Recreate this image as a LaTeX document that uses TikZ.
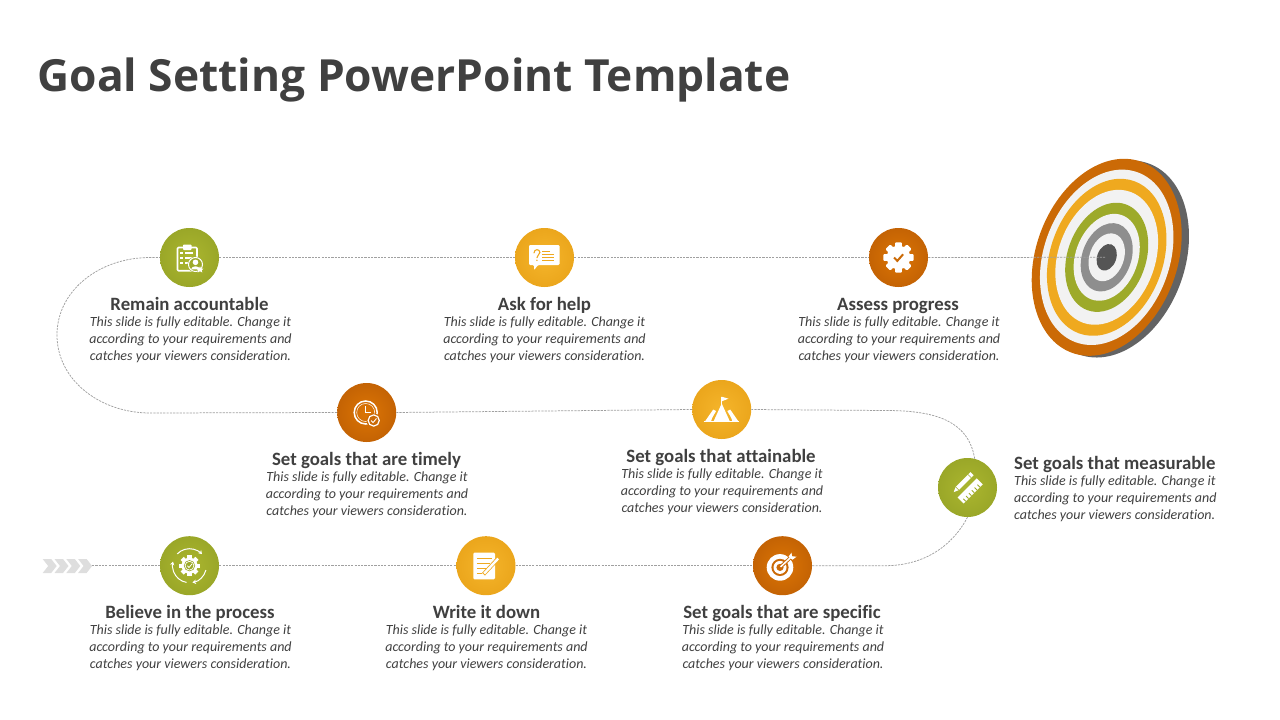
\documentclass[tikz,border=0pt]{standalone}
\usepackage{fontspec}
\setmainfont[Ligatures=NoCommon]{Carlito}
\newfontfamily\titlefont{Open Sans}
\usetikzlibrary{shadings,arrows.meta}
\definecolor{ink}{HTML}{404040}
\definecolor{rust}{HTML}{CB6A06}
\definecolor{amber}{HTML}{EFA91F}
\definecolor{olive}{HTML}{9DAA2A}
\definecolor{oliveglow}{HTML}{ABB62F}
\definecolor{oliveedge}{HTML}{9AA728}
\definecolor{amberglow}{HTML}{F5B52B}
\definecolor{amberedge}{HTML}{EBA61C}
\definecolor{rustglow}{HTML}{DC7505}
\definecolor{rustedge}{HTML}{C46304}
\definecolor{ringgrey}{HTML}{8E8E8E}
\definecolor{coregrey}{HTML}{555555}
\definecolor{ringwhite}{HTML}{F2F2F2}
\definecolor{pathgrey}{HTML}{A0A0A0}
\definecolor{chevgrey}{HTML}{DEDEDE}
\tikzset{
  x=1pt,y=-1pt,
  ball/.style={circle,inner sep=0pt,minimum size=59pt,draw=none},
  oliveball/.style={ball,inner color=oliveglow,outer color=oliveedge},
  amberball/.style={ball,inner color=amberglow,outer color=amberedge},
  rustball/.style={ball,inner color=rustglow,outer color=rustedge},
  headtext/.style={inner sep=0pt,anchor=base,font=\fontsize{18.8}{20}\selectfont\bfseries,text=ink},
  bodytext/.style={inner sep=0pt,anchor=north,align=center,font=\fontsize{14}{17}\selectfont\itshape,text=ink},
  pathline/.style={draw=pathgrey,line width=0.75pt,dash pattern=on 2.2pt off 1.1pt},
  iconstroke/.style={draw=white,line width=1.3pt,line cap=round,line join=round},
  roundarrow/.style={white,line width=1pt,-{Stealth[length=3.6pt,width=4.4pt]}},
  ringdisc/.style={shift={(1106.7,257.3)},rotate=-20},
}
\newcommand{\bodywords}{This slide is fully editable. Change it\\according to your requirements and\\catches your viewers consideration.}
\newcommand{\ringfill}[2]{\fill[#1] (0,0) ellipse [x radius=70.7*#2,y radius=101.6*#2];}
\begin{document}
\begin{tikzpicture}
\useasboundingbox (0,0) rectangle (1280,720);
\node[inner sep=0pt,anchor=base west,text=ink,font=\titlefont\fontsize{44.3}{50}\selectfont\bfseries] (title) at (37.5,91) {Goal Setting PowerPoint Template};

% target
\begin{scope}[shift={(1114,259)},rotate=-20]
  \ringfill{coregrey!92!white}{1}
\end{scope}
\begin{scope}[ringdisc]
  \ringfill{rust}{1}
  \ringfill{ringwhite}{.89}
  \ringfill{amber}{.797}
  \ringfill{ringwhite}{.685}
  \ringfill{olive}{.554}
  \ringfill{ringwhite}{.441}
  \ringfill{ringgrey}{.347}
  \ringfill{ringwhite}{.243}
  \ringfill{coregrey}{.135}
\end{scope}
\coordinate (aim) at (1105,257.3);

% chevrons
\foreach \cx in {42.7,54.5,66.3,78.1}{
  \fill[chevgrey] (\cx,559) -- (\cx+8.5,559) -- (\cx+14,566) -- (\cx+8.5,573) -- (\cx,573) -- (\cx+5.5,566) -- cycle;
}
\coordinate (tail) at (92,565.7);

% stations
\node[oliveball] (believe) at (189.5,565.7) {};
\node[amberball] (write) at (486,565.7) {};
\node[rustball] (specific) at (782.5,565.7) {};
\node[oliveball] (measurable) at (967.5,487.5) {};
\node[amberball] (attainable) at (721.7,409.5) {};
\node[rustball] (timely) at (366.7,412.5) {};
\node[oliveball] (accountable) at (189.5,257.5) {};
\node[amberball] (help) at (544.5,257.5) {};
\node[rustball] (progress) at (898.5,257.5) {};

% connectors
\draw[pathline] (tail) -- (believe);
\draw[pathline] (believe) -- (write);
\draw[pathline] (write) -- (specific);
\draw[pathline] (specific.east) -- (885,565.7) .. controls (925,565.7) and (953,545) .. (measurable.south);
\draw[pathline] (measurable.76) .. controls (968,418) and (930,410.5) .. (885,410.5) -- (attainable.east);
\draw[pathline] (attainable.west) -- (timely.east);
\draw[pathline] (timely.west) -- (150,413) .. controls (100,413) and (57,380) .. (57,335) .. controls (57,290) and (100,257.5) .. (150,257.5) -- (accountable.west);
\draw[pathline] (accountable) -- (help);
\draw[pathline] (help) -- (progress);
\draw[pathline] (progress) -- (aim);

% icon: clipboard and person
\begin{scope}[shift={(accountable.center)}]
  \draw[iconstroke,line width=1.6pt,rounded corners=1pt] (-12,-10) rectangle (7.5,13.2);
  \fill[white,rounded corners=.8pt] (-6.5,-13) rectangle (2,-7.5);
  \foreach \ly in {-4.5,0.5,5.5}{
    \draw[white,line width=1.2pt] (-9.5,\ly) -- (-6.5,\ly);
    \draw[white,line width=1.2pt] (-4.5,\ly) -- (3.5,\ly);
  }
  \fill[olive] (6,7) circle (8);
  \draw[white,line width=1pt] (6,7) circle (7);
  \fill[white] (6,4.8) circle (2.8);
  \fill[white] (1.6,11.8) .. controls (2,7.8) and (10,7.8) .. (10.4,11.8) -- cycle;
  \fill[white] (10.5,8.8) -- (11.5,11) -- (13.8,11.2) -- (12.2,12.8) -- (12.8,15) -- (10.5,13.8) -- (8.2,15) -- (8.8,12.8) -- (7.2,11.2) -- (9.5,11) -- cycle;
\end{scope}

% icon: speech bubble
\begin{scope}[shift={(help.center)}]
  \fill[white,rounded corners=1.2pt] (-15.5,-12.5) -- (15,-12.5) -- (15,7.5) -- (-6.5,7.5) -- (-10.5,12.8) -- (-10.5,7.5) -- (-15.5,7.5) -- cycle;
  \draw[amber,line width=1.1pt,line cap=round] (-10.5,-4.6) .. controls (-10.5,-8.8) and (-4.6,-8.8) .. (-4.6,-5) .. controls (-4.6,-2.6) and (-7.6,-2.6) .. (-7.6,0.2);
  \fill[amber] (-7.6,2.8) circle (.8);
  \foreach \ly/\lx in {-6/5,-3/9,0/9,3/9}{
    \draw[amber,line width=1pt] (-2.5,\ly) -- (\lx,\ly);
  }
\end{scope}

% icon: gear with tick
\begin{scope}[shift={(progress.center)}]
  \foreach \a in {0,45,...,315}{
    \fill[white,rotate=\a,rounded corners=1pt] (-3.4,-15.2) rectangle (3.4,-8);
  }
  \fill[white] (0,0) circle (11.8);
  \draw[rust,line width=2pt] (-4.4,0) -- (-1.2,3.4) -- (4.6,-3.2);
\end{scope}

% icon: clock with badge
\begin{scope}[shift={(timely.center)}]
  \draw[white,line width=1.5pt] (-1,0) circle (11.5);
  \draw[white,line width=.5pt] (-1,0) circle (9);
  \draw[white,line width=1.4pt] (-1,-6.5) -- (-1,0) -- (4.5,0);
  \fill[rust] (7,8) circle (7.2);
  \draw[white,line width=1.2pt] (7,8) circle (5.6);
  \draw[white,line width=.9pt] (4.4,8) -- (6.4,10) -- (9.8,6);
\end{scope}

% icon: mountain with flag
\begin{scope}[shift={(attainable.center)}]
  \fill[white] (0,-6) -- (8,11.6) -- (-8,11.6) -- cycle;
  \fill[white] (-8.5,0) -- (-5.6,1.6) .. controls (-7.6,5) and (-10,8.5) .. (-10.6,11.6) -- (-16.5,11.6) -- cycle;
  \fill[white] (8.5,0) -- (5.6,1.6) .. controls (7.6,5) and (10,8.5) .. (10.6,11.6) -- (16.5,11.6) -- cycle;
  \draw[white,line width=.8pt] (0,-5) -- (0,-12.8);
  \fill[white] (0,-12.8) -- (6.8,-10.8) -- (0,-8.2) -- cycle;
  \draw[white,line width=1pt] (-18,12.2) -- (17.5,12.2);
\end{scope}

% icon: ruler and pencil
\begin{scope}[shift={(measurable.center)},rotate=45]
  \fill[white] (-14,0) rectangle (13,8.6);
  \foreach \tx in {-11,-7,-3,1,5,9}{
    \draw[olive,line width=.9pt] (\tx,8.6) -- (\tx,5);
  }
  \fill[white] (-13,-6.5) -- (-8,-8.8) -- (13,-8.8) -- (13,-4.3) -- (-8,-4.3) -- cycle;
  \draw[olive,line width=.6pt] (9.5,-8.8) -- (9.5,-4.3);
  \draw[olive,line width=.6pt] (-8,-8.8) -- (-8,-4.3);
\end{scope}

% icon: dart board
\begin{scope}[shift={(specific.center)}]
  \fill[white] (-2.5,1.7) circle (13.3);
  \fill[rust] (-2.5,1.7) circle (8.6);
  \fill[white] (-2.5,1.7) circle (6.5);
  \fill[rust] (-2.5,1.7) circle (3.6);
  \draw[rust,line width=3.4pt] (-2,1.2) -- (9,-9);
  \draw[white,line width=1.5pt] (-2,1.2) -- (9,-9);
  \fill[white] (6,-9) -- (9,-13) -- (9.5,-9.5) -- (14,-9) -- (10,-6) -- cycle;
\end{scope}

% icon: note and pencil
\begin{scope}[shift={(write.center)}]
  \fill[white,rounded corners=1.2pt] (-12.7,-13) rectangle (9,13.7);
  \foreach \ly/\lx in {-7/6,-2/4,3/1,8/-4}{
    \draw[amber,line width=1.3pt] (-9.2,\ly) -- (\lx,\ly);
  }
  \draw[amber,line width=4pt] (-2.5,8.5) -- (11,-6);
  \draw[white,line width=2.4pt] (-1.8,7.8) -- (12.2,-7.2);
\end{scope}

% icon: gear ringed by arrows
\begin{scope}[shift={(believe.center)}]
  \foreach \a in {0,45,...,315}{
    \fill[white,rotate=\a] (-2.2,-10.4) rectangle (2.2,-6);
  }
  \fill[white] (0,0) circle (8);
  \fill[olive] (0,0) circle (5.6);
  \draw[white,line width=.7pt] (0,0) circle (4.4);
  \draw[white,line width=.8pt] (-2.2,0) -- (-.5,1.8) -- (2.5,-1.8);
  \draw[roundarrow] (-136:17) arc (-136:-43:17);
  \draw[roundarrow] (15:17) arc (15:80:17);
  \draw[roundarrow] (100:17) arc (100:194:17);
\end{scope}

% labels
\node[headtext] (accountablehead) at (189.5,310) {Remain accountable};
\node[bodytext] (accountablebody) at (190.5,316.5) {\bodywords};
\node[headtext] (helphead) at (544.5,310) {Ask for help};
\node[bodytext] (helpbody) at (544.5,316.5) {\bodywords};
\node[headtext] (progresshead) at (898,310) {Assess progress};
\node[bodytext] (progressbody) at (899,316.5) {\bodywords};
\node[headtext] (timelyhead) at (366.5,465) {Set goals that are timely};
\node[bodytext] (timelybody) at (367,471.5) {\bodywords};
\node[headtext] (attainablehead) at (721,462) {Set goals that attainable};
\node[bodytext] (attainablebody) at (722,468.5) {\bodywords};
\node[headtext] (believehead) at (190,618) {Believe in the process};
\node[bodytext] (believebody) at (190.5,624.5) {\bodywords};
\node[headtext] (writehead) at (486.5,618) {Write it down};
\node[bodytext] (writebody) at (486.5,624.5) {\bodywords};
\node[headtext] (specifichead) at (782,618) {Set goals that are specific};
\node[bodytext] (specificbody) at (783,624.5) {\bodywords};
\node[headtext,anchor=base west] (measurablehead) at (1014,469) {Set goals that measurable};
\node[bodytext,anchor=north west,align=left] (measurablebody) at (1014,475.5) {\bodywords};
\end{tikzpicture}
\end{document}
